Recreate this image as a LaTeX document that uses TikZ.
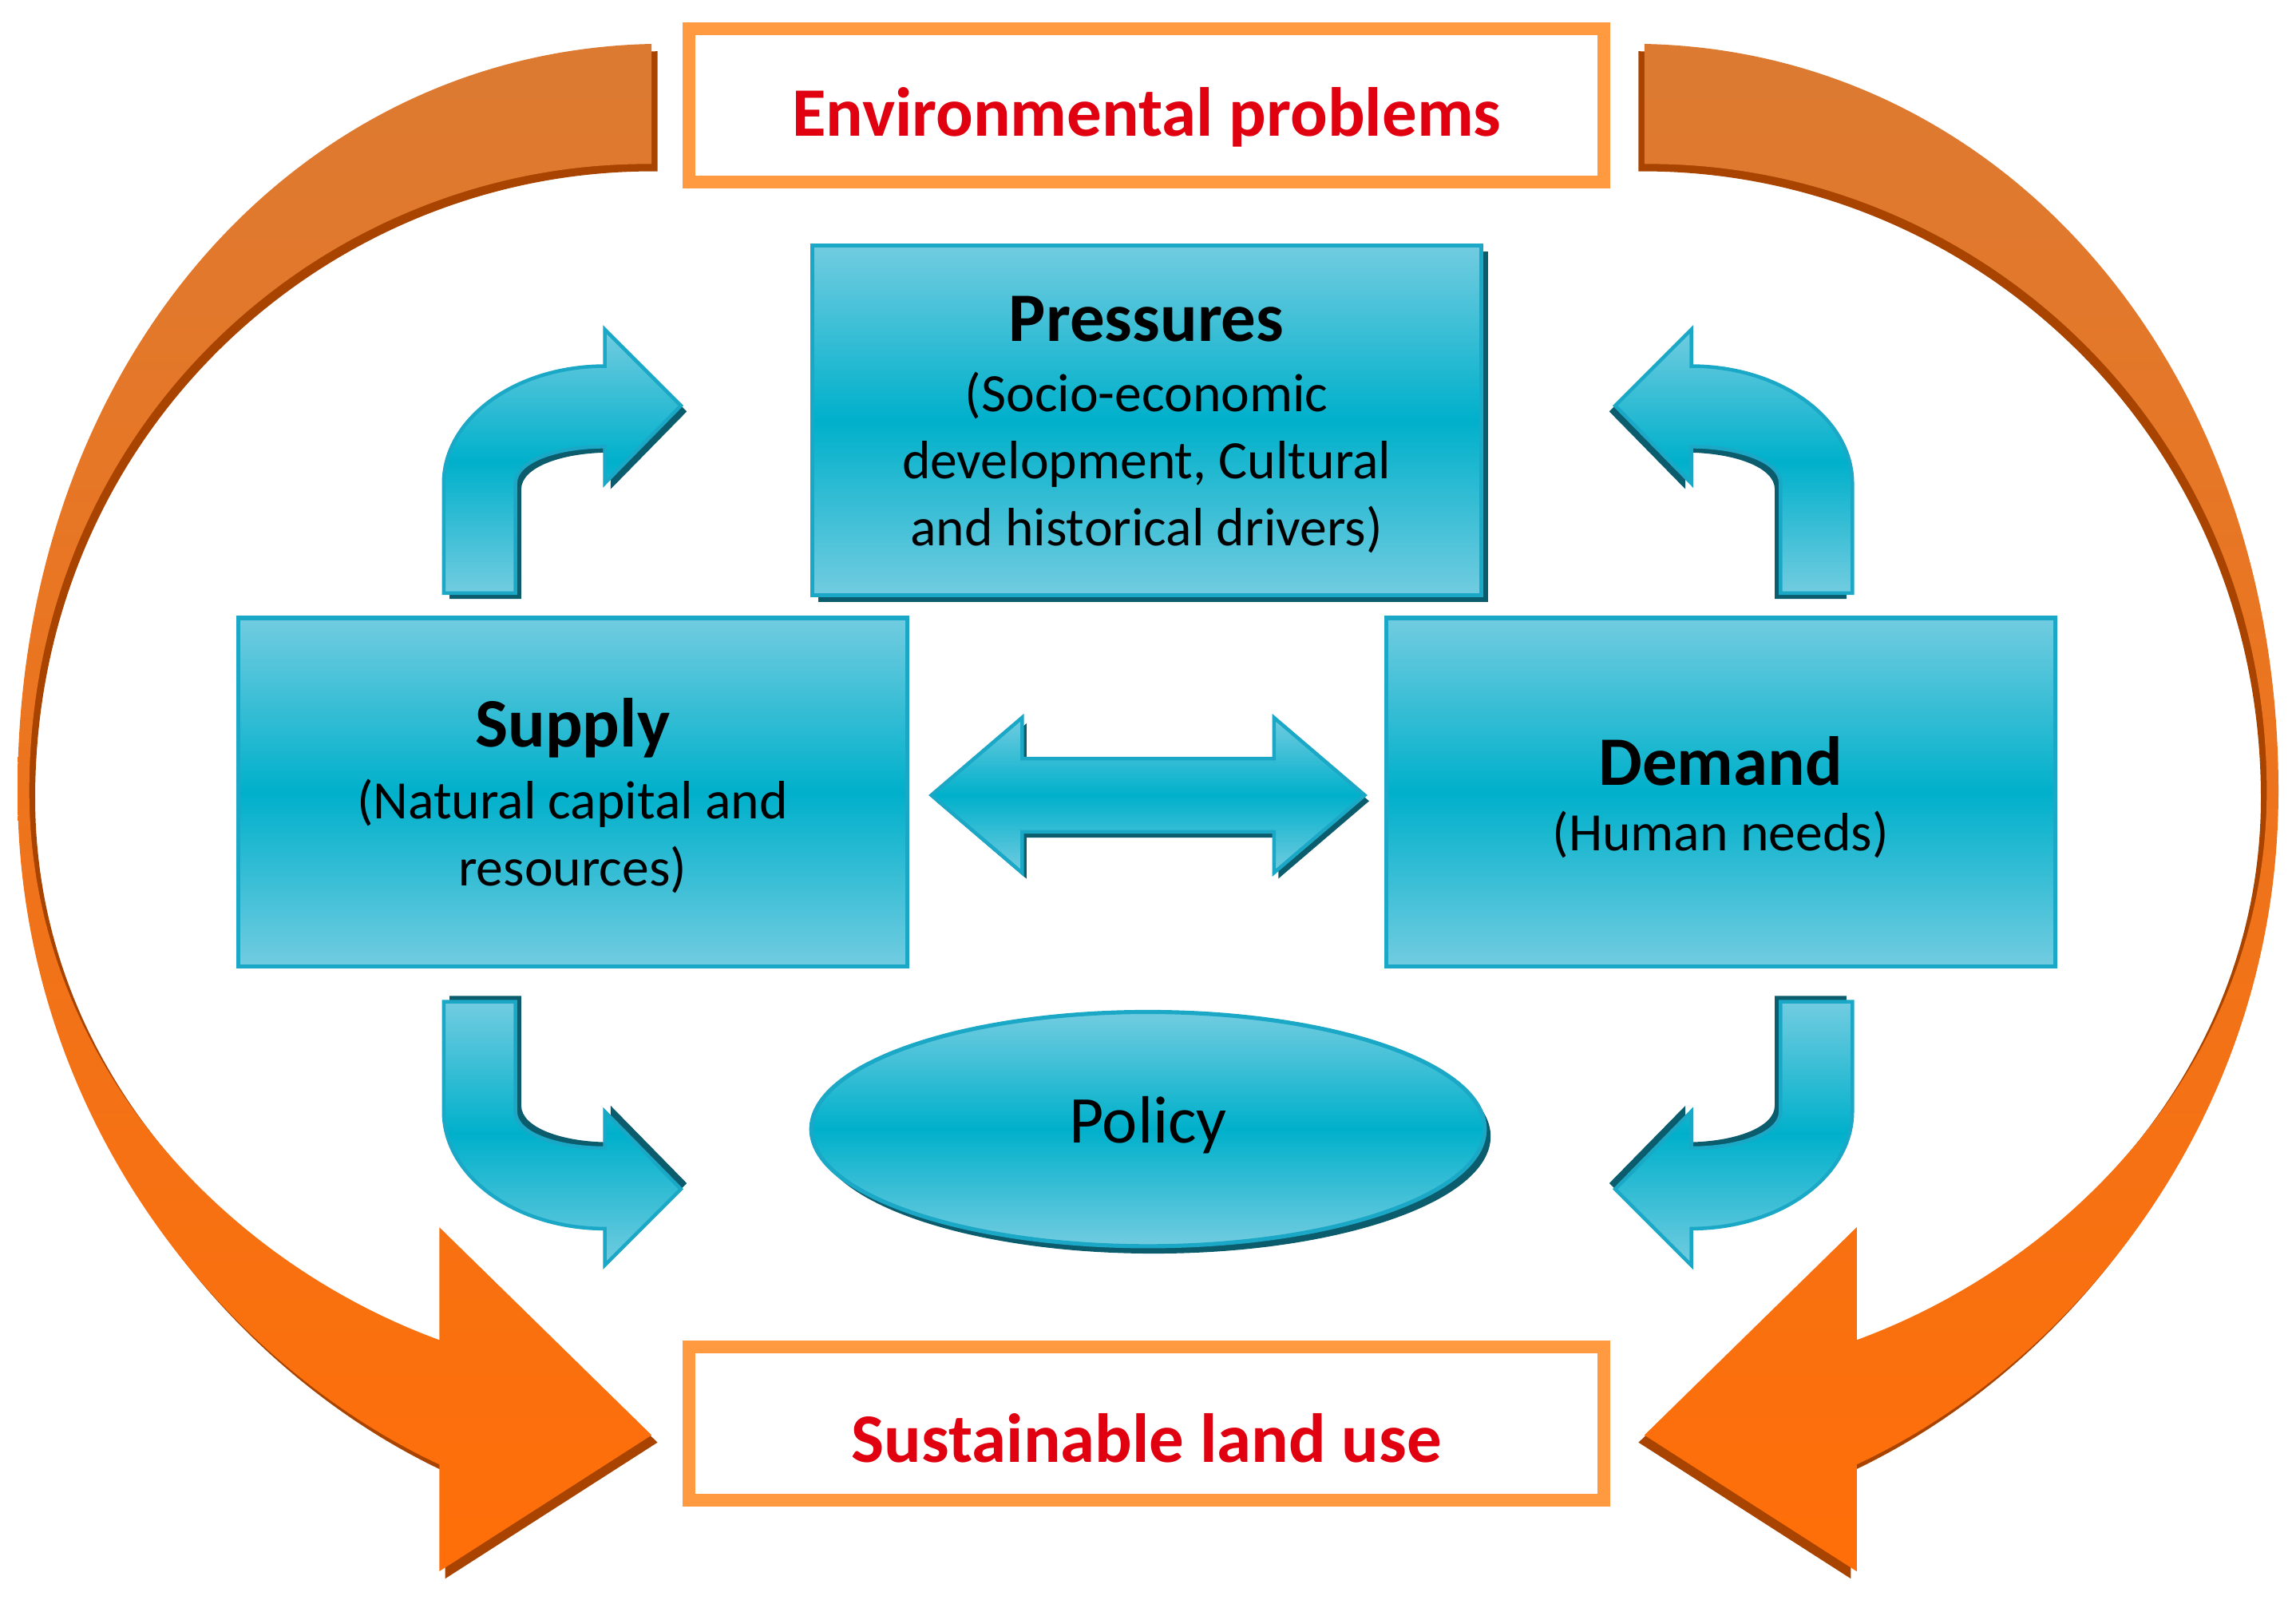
\documentclass[tikz,border=0pt]{standalone}
\usepackage{fontspec}
\usetikzlibrary{shapes.geometric}
\setmainfont{Carlito}
\begin{document}
\definecolor{tl}{HTML}{72CCE0}
\definecolor{td}{HTML}{00B0CB}
\definecolor{tb}{HTML}{1AA8C6}
\definecolor{ts}{HTML}{0B5D6E}
\definecolor{ob}{HTML}{FF9A40}
\definecolor{otop}{HTML}{DC7A32}
\definecolor{obot}{HTML}{FF6E08}
\definecolor{osh}{HTML}{A84400}
\definecolor{rtxt}{HTML}{E00010}
\begin{tikzpicture}[x=0.02cm,y=-0.02cm,
  tbox/.style={draw=tb,line width=1.6pt,top color=tl,bottom color=tl,middle color=td,align=center,inner sep=0pt},
  obox/.style={draw=ob,line width=5pt,fill=white,minimum width=12.5cm,minimum height=2.1cm},
  otxt/.style={font=\bfseries\fontsize{27}{32}\selectfont,text=rtxt},
  tarr/.style={draw=tb,line width=1.4pt,top color=tl,bottom color=tl,middle color=td},
  oarr/.style={top color=otop,bottom color=obot},
  ttl/.style={font=\bfseries\fontsize{27}{32}\selectfont},
  sub/.style={font=\fontsize{21}{26}\selectfont}]
\useasboundingbox (0,0) rectangle (1568,1095);
% orange arrows
\def\oleft{(445,30) .. controls (200,35) and (12,250) .. (12,540) .. controls (12,760) and (150,930) .. (300,1000) -- (300,1073) -- (445,980) -- (300,838) -- (300,915) .. controls (150,860) and (20,720) .. (20,540) .. controls (20,290) and (220,110) .. (445,112) -- cycle}
\foreach \s/\m in {1/0,-1/1568}{
  \begin{scope}[xshift=\m*0.02cm,xscale=\s]
    \fill[osh,shift={(4,5)}] \oleft;
    \shade[oarr] \oleft;
  \end{scope}}
% boxes
\node[obox] (env) at (783,72) {};
\node[otxt] (envt) at (783,80) {Environmental problems};
\node[obox] (slu) at (783,972) {};
\node[otxt] (slut) at (783,982) {Sustainable land use};
\fill[ts] (559,172) rectangle (1016,411);
\node[tbox,minimum width=9.14cm,minimum height=4.78cm] (pres) at (783,287) {};
\node[ttl] (prest) at (783,218) {Pressures};
\node[sub,align=center] (press) at (783,316) {(Socio-economic\\development, Cultural\\and historical drivers)};
\node[tbox,minimum width=9.14cm,minimum height=4.76cm] (sup) at (391,541) {};
\node[ttl] (supt) at (391,497) {Supply};
\node[sub,align=center] (sups) at (391,571) {(Natural capital and\\resources)};
\node[tbox,minimum width=9.14cm,minimum height=4.76cm] (dem) at (1175,541) {};
\node[ttl] (demt) at (1175,520) {Demand};
\node[sub] (dems) at (1175,570) {(Human needs)};
\fill[ts] (788,776) ellipse [x radius=230, y radius=80];
\node[tbox,ellipse,minimum width=9.2cm,minimum height=3.2cm] (pol) at (784,771) {};
\node[font=\fontsize{26}{30}\selectfont] (polt) at (784,768) {Policy};
% double arrow
\def\dbl{(636,543) -- (698,490) -- (698,518) -- (870,518) -- (870,490) -- (932,543) -- (870,596) -- (870,568) -- (698,568) -- (698,596) -- cycle}
\fill[ts,shift={(3,4)}] \dbl;
\shade[tarr] \dbl;
% bent arrows
\def\bent{(303,405) -- (303,330) .. controls (303,286) and (352,250) .. (413,250) -- (413,225) -- (465,277) -- (413,330) -- (413,305) .. controls (380,305) and (352,315) .. (352,330) -- (352,405) -- cycle}
\foreach \sx/\mx in {1/0,-1/1568}{
 \foreach \sy/\my in {1/0,-1/1089}{
  \begin{scope}[xshift=\mx*0.02cm,yshift=-\my*0.02cm,xscale=\sx,yscale=\sy]
    \fill[ts,shift={(4,4)}] \bent;
    \shade[tarr] \bent;
  \end{scope}}}
\end{tikzpicture}
\end{document}
